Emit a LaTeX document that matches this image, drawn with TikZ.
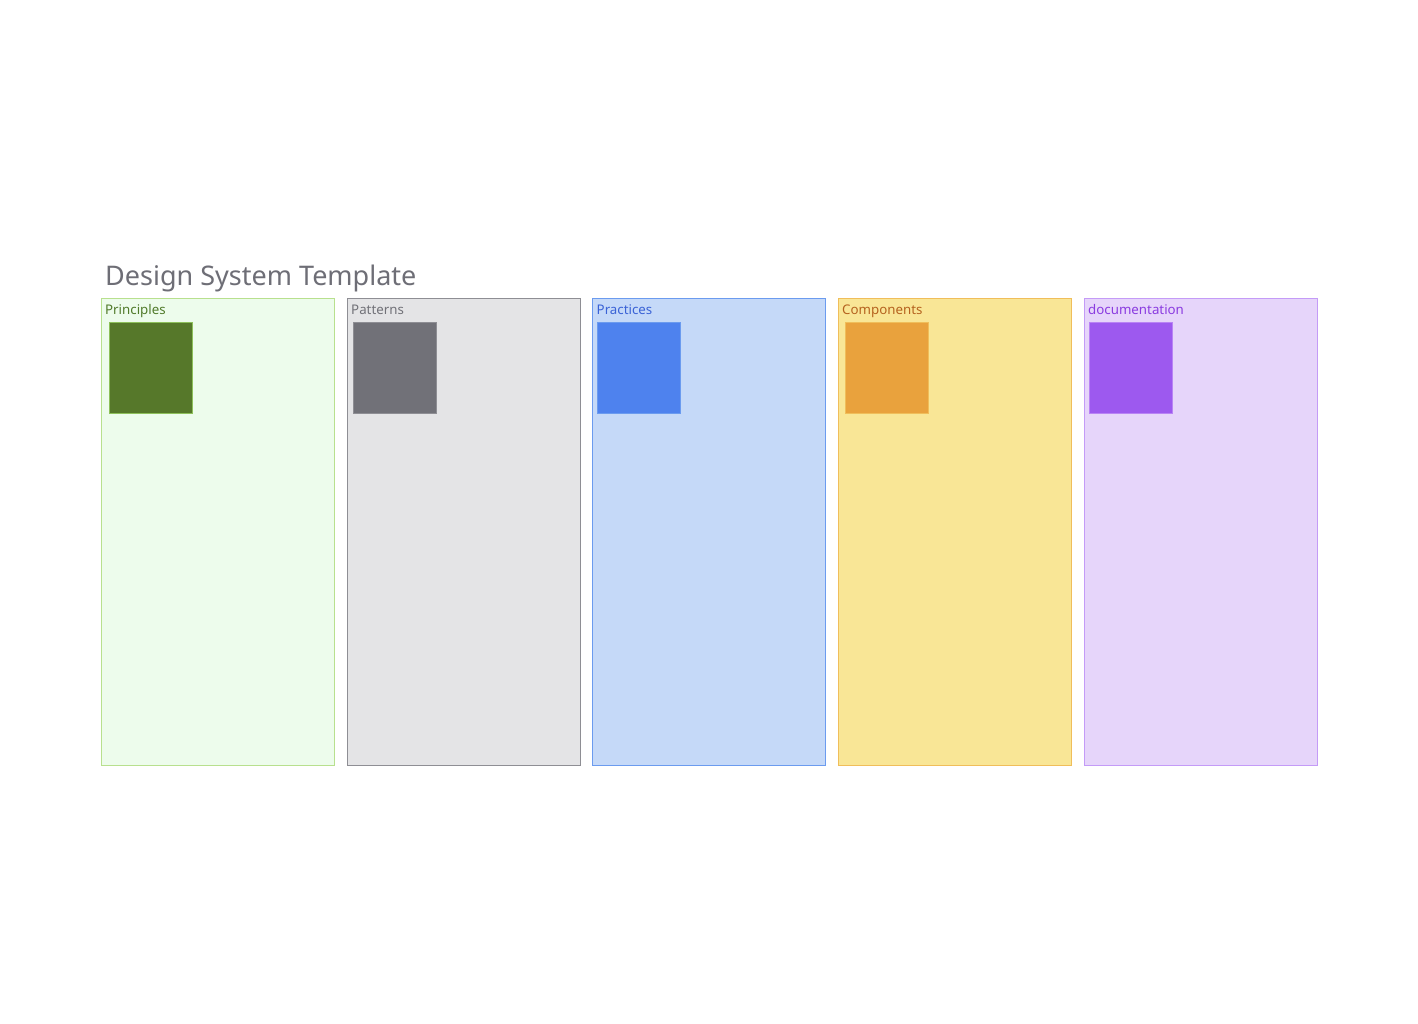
\documentclass[tikz,border=0pt]{standalone}
\usepackage{fontspec}
\setmainfont{Noto Sans}
\definecolor{gfill}{HTML}{EDFCEC}\definecolor{gline}{HTML}{B8E08E}\definecolor{gsq}{HTML}{56782A}\definecolor{gsql}{HTML}{8DC05A}\definecolor{gtxt}{HTML}{507A2A}
\definecolor{afill}{HTML}{E4E4E6}\definecolor{aline}{HTML}{8E8E94}\definecolor{asq}{HTML}{717178}\definecolor{asql}{HTML}{8E8E94}\definecolor{atxt}{HTML}{717178}
\definecolor{bfill}{HTML}{C5D9F8}\definecolor{bline}{HTML}{6B9BEF}\definecolor{bsq}{HTML}{4E82EE}\definecolor{bsql}{HTML}{6B9BEF}\definecolor{btxt}{HTML}{3A62D6}
\definecolor{yfill}{HTML}{F9E696}\definecolor{yline}{HTML}{F0BE5A}\definecolor{ysq}{HTML}{E9A23D}\definecolor{ysql}{HTML}{F0BE5A}\definecolor{ytxt}{HTML}{B5621E}
\definecolor{pfill}{HTML}{E6D5FA}\definecolor{pline}{HTML}{C49BF7}\definecolor{psq}{HTML}{9D59EF}\definecolor{psql}{HTML}{B983F5}\definecolor{ptxt}{HTML}{8A3BE0}
\definecolor{titlec}{HTML}{6E6E76}
\begin{document}
\begin{tikzpicture}[x=1pt,y=-1pt,
  colbox/.style={draw=#1line,fill=#1fill,line width=1pt,inner sep=0pt,minimum width=233pt,minimum height=467pt,anchor=north west},
  sqbox/.style={draw=#1sql,fill=#1sq,line width=1pt,inner sep=0pt,minimum width=83pt,minimum height=91pt,anchor=north west},
  lbl/.style={text=#1txt,anchor=base west,inner sep=0pt,font=\fontsize{13.3}{15}\selectfont}]
\useasboundingbox[fill=white] (0,0) rectangle (1418,1024);
\node[anchor=base west,inner sep=0pt,text=titlec,font=\fontsize{27}{32}\selectfont] (title) at (105,285) {Design System Template};
\node[colbox=g] (c1) at (100.5,297.5) {};
\node[colbox=a] (c2) at (346.5,297.5) {};
\node[colbox=b] (c3) at (592,297.5) {};
\node[colbox=y] (c4) at (837.5,297.5) {};
\node[colbox=p] (c5) at (1083.5,297.5) {};
\node[lbl=g] (l1) at (105,314) {Principles};
\node[lbl=a] (l2) at (351,314) {Patterns};
\node[lbl=b] (l3) at (596.5,314) {Practices};
\node[lbl=y] (l4) at (842,314) {Components};
\node[lbl=p] (l5) at (1088,314) {documentation};
\node[sqbox=g] (s1) at (108.5,322) {};
\node[sqbox=a] (s2) at (352.5,322) {};
\node[sqbox=b] (s3) at (596.5,322) {};
\node[sqbox=y] (s4) at (844.5,322) {};
\node[sqbox=p] (s5) at (1088.5,322) {};
\end{tikzpicture}
\end{document}
